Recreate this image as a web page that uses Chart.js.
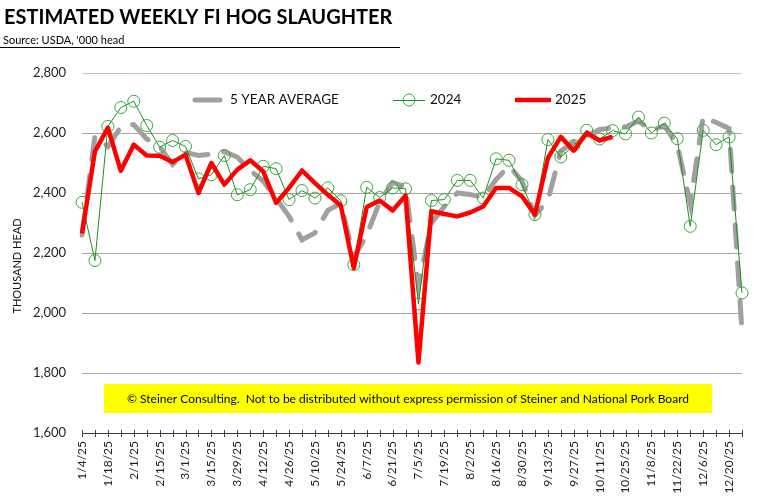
<!DOCTYPE html>
<html>
<head>
<meta charset="utf-8">
<script src="https://cdn.jsdelivr.net/npm/chart.js@4.4.1/dist/chart.umd.min.js"></script>
<style>
  html, body { margin: 0; padding: 0; background: #fff; }
  #wrap { width: 768px; height: 502px; position: relative; }
</style>
</head>
<body>
<div id="wrap"><canvas id="myChart" width="768" height="502"></canvas></div>
<script>
var weeks = [
  "1/4/25", "1/11/25", "1/18/25", "1/25/25", "2/1/25", "2/8/25", "2/15/25", "2/22/25",
  "3/1/25", "3/8/25", "3/15/25", "3/22/25", "3/29/25", "4/5/25", "4/12/25", "4/19/25",
  "4/26/25", "5/3/25", "5/10/25", "5/17/25", "5/24/25", "5/31/25", "6/7/25", "6/14/25",
  "6/21/25", "6/28/25", "7/5/25", "7/12/25", "7/19/25", "7/26/25", "8/2/25", "8/9/25",
  "8/16/25", "8/23/25", "8/30/25", "9/6/25", "9/13/25", "9/20/25", "9/27/25", "10/4/25",
  "10/11/25", "10/18/25", "10/25/25", "11/1/25", "11/8/25", "11/15/25", "11/22/25", "11/29/25",
  "12/6/25", "12/13/25", "12/20/25", "12/27/25"
];

var avg5yr = [
  2260, 2590, 2555, 2620, 2628, 2580, 2555, 2495, 2535, 2525, 2530, 2538, 2520,
  2475, 2440, 2382, 2322, 2244, 2267, 2342, 2365, 2185, 2260, 2370, 2435, 2420,
  2090, 2300, 2355, 2400, 2395, 2385, 2445, 2490, 2440, 2325, 2375, 2540, 2570,
  2590, 2612, 2617, 2620, 2640, 2608, 2625, 2560, 2365, 2655, 2635, 2615, 1935
];

var y2024 = [
  2369, 2175, 2622, 2685, 2706, 2625, 2553, 2575, 2555, 2447, 2461, 2525, 2394,
  2411, 2489, 2481, 2378, 2408, 2383, 2417, 2374, 2161, 2419, 2385, 2417, 2414,
  2030, 2375, 2378, 2442, 2442, 2383, 2514, 2509, 2428, 2328, 2578, 2520, 2558,
  2609, 2580, 2608, 2597, 2653, 2600, 2633, 2581, 2289, 2609, 2561, 2587, 2067
];

var y2025 = [
  2265, 2539, 2617, 2474, 2561, 2525, 2524, 2503, 2528, 2400, 2500, 2428, 2478,
  2509, 2472, 2367, 2417, 2475, 2433, 2394, 2358, 2150, 2353, 2375, 2342, 2391,
  1835, 2339, 2330, 2322, 2335, 2355, 2417, 2417, 2389, 2328, 2517, 2587, 2541,
  2600, 2575, 2587
];

var yTicks = [1600, 1800, 2000, 2200, 2400, 2600, 2800];

var FONT = "Lato, 'Open Sans', sans-serif";
var GRAY = '#a0a0a0';
var GREEN_LINE = '#1f8f1f';
var GREEN_PT = '#3aa83a';
var RED = '#ff0000';

// title, legend, axis title, copyright box and the little cross ticks on the x axis
var extras = {
  id: 'extras',
  afterDraw: function(chart) {
    var c = chart.ctx;
    var xs = chart.scales.x;
    var area = chart.chartArea;
    c.save();

    c.fillStyle = '#000';
    c.textBaseline = 'alphabetic';
    c.textAlign = 'left';
    c.font = 'bold 20px ' + FONT;
    c.fillText('ESTIMATED WEEKLY FI HOG SLAUGHTER', 4, 24);
    c.font = '11px ' + FONT;
    c.fillText("Source: USDA, '000 head", 3, 44);
    c.strokeStyle = '#000';
    c.lineWidth = 1;
    c.beginPath();
    c.moveTo(0, 47.5);
    c.lineTo(400, 47.5);
    c.stroke();

    // y axis title, sits a bit below the middle in the original
    c.save();
    c.translate(17, 266);
    c.rotate(-Math.PI / 2);
    c.textAlign = 'center';
    c.textBaseline = 'middle';
    c.fillStyle = '#111';
    c.font = '11px ' + FONT;
    c.fillText('THOUSAND HEAD', 0, 0);
    c.restore();

    // x axis tick marks, one per week
    c.strokeStyle = '#404040';
    c.beginPath();
    for (var i = 0; i < weeks.length; i++) {
      var px = Math.round(xs.getPixelForValue(i)) + 0.5;
      c.moveTo(px, area.bottom - 3);
      c.lineTo(px, area.bottom + 4);
    }
    c.stroke();

    // legend
    var ly = 100;
    c.lineCap = 'round';
    c.strokeStyle = GRAY;
    c.lineWidth = 5;
    c.beginPath();
    c.moveTo(195, ly);
    c.lineTo(220, ly);
    c.stroke();

    c.lineCap = 'butt';
    c.strokeStyle = GREEN_LINE;
    c.lineWidth = 1;
    c.beginPath();
    c.moveTo(393, ly + 0.5);
    c.lineTo(425, ly + 0.5);
    c.stroke();
    c.strokeStyle = GREEN_PT;
    c.beginPath();
    c.arc(409, ly, 6, 0, Math.PI * 2);
    c.stroke();

    c.strokeStyle = RED;
    c.lineWidth = 4.5;
    c.beginPath();
    c.moveTo(515, ly);
    c.lineTo(551, ly);
    c.stroke();

    c.fillStyle = '#111';
    c.font = '13.5px ' + FONT;
    c.textBaseline = 'middle';
    c.fillText('5 YEAR AVERAGE', 230, ly);
    c.fillText('2024', 430, ly);
    c.fillText('2025', 555, ly);

    // copyright box
    c.fillStyle = '#ffff00';
    c.fillRect(104, 384, 608, 29);
    c.fillStyle = '#000';
    c.font = '12px ' + FONT;
    c.textAlign = 'center';
    c.fillText('\u00A9 Steiner Consulting.  Not to be distributed without express permission of Steiner and National Pork Board', 408, 399);

    c.restore();
  }
};

var ctx = document.getElementById('myChart').getContext('2d');

var config = {
  type: 'line',
  data: {
    labels: weeks,
    datasets: [{
      label: '5 YEAR AVERAGE',
      data: avg5yr,
      borderColor: GRAY,
      borderWidth: 5,
      borderDash: [22, 16],
      borderCapStyle: 'round',
      pointRadius: 0,
      tension: 0,
      order: 3
    }, {
      label: '2024',
      data: y2024,
      borderColor: GREEN_LINE,
      borderWidth: 1,
      pointRadius: 6,
      pointBorderWidth: 1,
      pointBorderColor: GREEN_PT,
      pointBackgroundColor: 'rgba(255,255,255,0)',
      tension: 0,
      order: 2
    }, {
      label: '2025',
      data: y2025,
      borderColor: RED,
      borderWidth: 4.5,
      borderJoinStyle: 'round',
      pointRadius: 0,
      tension: 0,
      order: 1
    }]
  },
  options: {
    responsive: false,
    animation: false,
    layout: { padding: { top: 73, right: 26, left: 0, bottom: 0 } },
    plugins: {
      legend: { display: false },
      tooltip: { enabled: false }
    },
    scales: {
      x: {
        offset: false,
        grid: { display: false, drawTicks: false },
        border: { display: true, color: '#404040', width: 1 },
        ticks: {
          autoSkip: false,
          minRotation: 90,
          maxRotation: 90,
          padding: 8,
          color: '#222',
          font: { family: FONT, size: 12 },
          callback: function(v, i) { return i % 2 === 0 ? weeks[i] : ''; }
        },
        afterFit: function(scale) { scale.height = 69; }
      },
      y: {
        min: 1600,
        max: 2800,
        afterBuildTicks: function(scale) {
          scale.ticks = yTicks.map(function(v) { return { value: v }; });
        },
        grid: {
          drawTicks: false,
          color: function(c) {
            if (c.tick && c.tick.value === 2800) return '#c4c4c4';
            if (c.tick && c.tick.value === 1600) return '#404040';
            return '#a6a6a6';
          }
        },
        border: { display: false },
        ticks: {
          padding: 16,
          color: '#222',
          font: { family: FONT, size: 13 },
          callback: function(v) { return v.toLocaleString('en-US'); }
        },
        afterFit: function(scale) { scale.width = 82; }
      }
    }
  },
  plugins: [extras]
};

var chart = new Chart(ctx, config);
</script>
</body>
</html>
